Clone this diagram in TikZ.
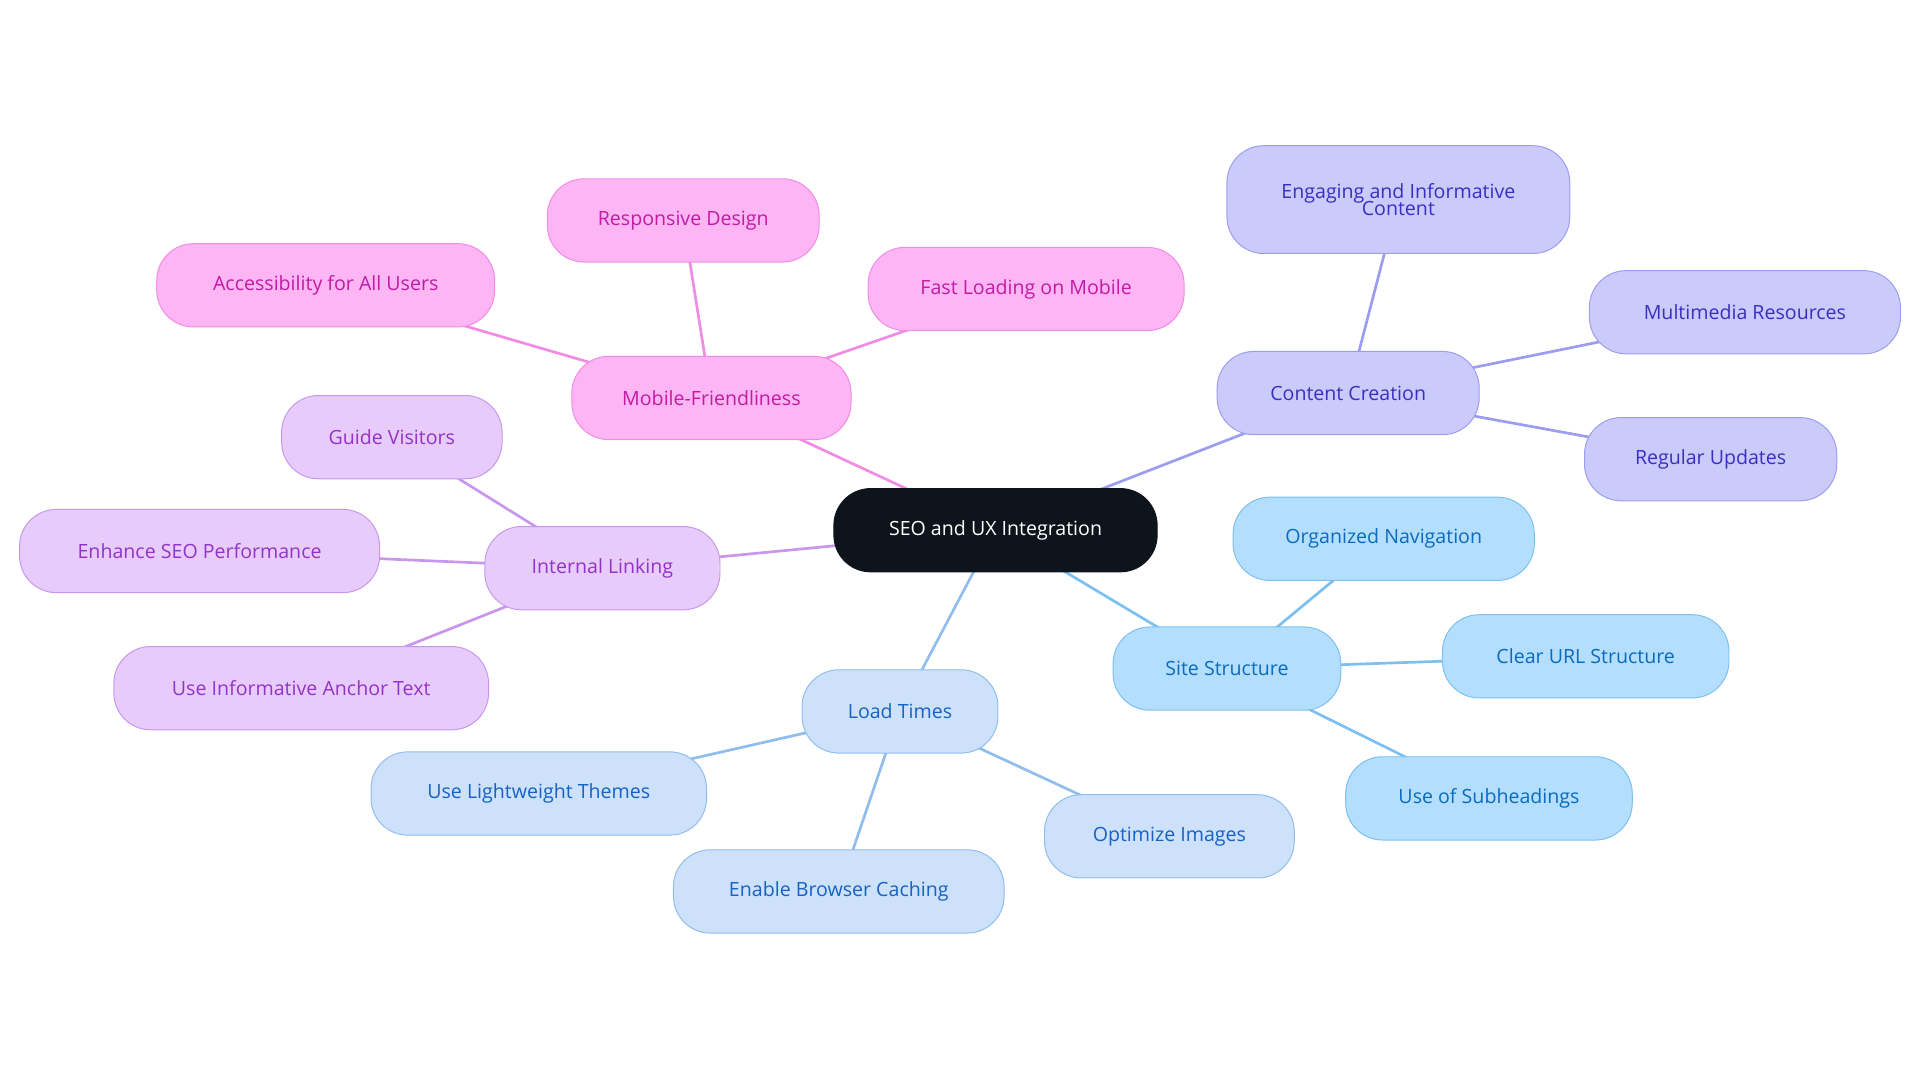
\documentclass[tikz,border=0pt]{standalone}
\usepackage{fontspec}
\setmainfont{Open Sans}
\usetikzlibrary{backgrounds}
\definecolor{rootfill}{HTML}{0D141C}
\definecolor{pinkfill}{HTML}{FDB5F3}\definecolor{pinktext}{HTML}{C21BA6}\definecolor{pinkline}{HTML}{F08CE4}
\definecolor{violfill}{HTML}{CBCBFB}\definecolor{violtext}{HTML}{3A2FC0}\definecolor{violline}{HTML}{9C9CF0}
\definecolor{skyfill}{HTML}{B3DEFD}\definecolor{skytext}{HTML}{0B6BBF}\definecolor{skyline}{HTML}{7CC0F0}
\definecolor{bluefill}{HTML}{CDE1FB}\definecolor{bluetext}{HTML}{1762C4}\definecolor{blueline}{HTML}{90BDEC}
\definecolor{lilfill}{HTML}{E7CCFB}\definecolor{liltext}{HTML}{9333C8}\definecolor{lilline}{HTML}{C996EE}
\tikzset{
  idea/.style={rectangle, rounded corners=30pt, minimum height=68pt, align=center,
    inner xsep=10pt, font=\fontsize{16}{17}\selectfont, line width=0.8pt},
  root/.style={idea, fill=rootfill, draw=rootfill, text=white},
  pinkidea/.style={idea, fill=pinkfill, draw=pinkline, text=pinktext},
  violidea/.style={idea, fill=violfill, draw=violline, text=violtext},
  skyidea/.style={idea, fill=skyfill, draw=skyline, text=skytext},
  blueidea/.style={idea, fill=bluefill, draw=blueline, text=bluetext},
  lilidea/.style={idea, fill=lilfill, draw=lilline, text=liltext},
  link/.style={line width=2.2pt}
}
\begin{document}
\begin{tikzpicture}[x=1pt,y=-1pt]
\useasboundingbox (0,0) rectangle (1568,884);
\node[root, minimum width=264pt] (seo) at (813,433) {SEO and UX Integration};
% mobile
\node[pinkidea, minimum width=228pt] (mobile) at (581,325) {Mobile-Friendliness};
\node[pinkidea, minimum width=222pt] (resp) at (558,180) {Responsive Design};
\node[pinkidea, minimum width=276pt] (access) at (266,233) {Accessibility for All Users};
\node[pinkidea, minimum width=258pt] (fast) at (838,236) {Fast Loading on Mobile};
% content
\node[violidea, minimum width=214pt] (content) at (1101,321) {Content Creation};
\node[violidea, minimum width=280pt, minimum height=88pt] (engage) at (1142,163) {Engaging and Informative\\[-3pt]Content};
\node[violidea, minimum width=254pt] (multi) at (1425,255) {Multimedia Resources};
\node[violidea, minimum width=206pt] (regular) at (1397,375) {Regular Updates};
% structure
\node[skyidea, minimum width=186pt] (site) at (1002,546) {Site Structure};
\node[skyidea, minimum width=246pt] (nav) at (1130,440) {Organized Navigation};
\node[skyidea, minimum width=234pt] (url) at (1295,536) {Clear URL Structure};
\node[skyidea, minimum width=234pt] (sub) at (1216,652) {Use of Subheadings};
% load times
\node[blueidea, minimum width=160pt] (load) at (735,581) {Load Times};
\node[blueidea, minimum width=274pt] (themes) at (440,648) {Use Lightweight Themes};
\node[blueidea, minimum width=270pt] (cache) at (685,728) {Enable Browser Caching};
\node[blueidea, minimum width=204pt] (images) at (955,683) {Optimize Images};
% linking
\node[lilidea, minimum width=192pt] (linking) at (492,464) {Internal Linking};
\node[lilidea, minimum width=180pt] (guide) at (320,357) {Guide Visitors};
\node[lilidea, minimum width=294pt] (enhance) at (163,450) {Enhance SEO Performance};
\node[lilidea, minimum width=306pt] (anchor) at (246,562) {Use Informative Anchor Text};
\begin{scope}[on background layer]
  \draw[link, pinkline] (seo.center) -- (mobile.center);
  \foreach \n in {resp,access,fast} \draw[link, pinkline] (mobile.center) -- (\n.center);
  \draw[link, violline] (seo.center) -- (content.center);
  \foreach \n in {engage,multi,regular} \draw[link, violline] (content.center) -- (\n.center);
  \draw[link, skyline] (seo.center) -- (site.center);
  \foreach \n in {nav,url,sub} \draw[link, skyline] (site.center) -- (\n.center);
  \draw[link, blueline] (seo.center) -- (load.center);
  \foreach \n in {themes,cache,images} \draw[link, blueline] (load.center) -- (\n.center);
  \draw[link, lilline] (seo.center) -- (linking.center);
  \foreach \n in {guide,enhance,anchor} \draw[link, lilline] (linking.center) -- (\n.center);
\end{scope}
\end{tikzpicture}
\end{document}
